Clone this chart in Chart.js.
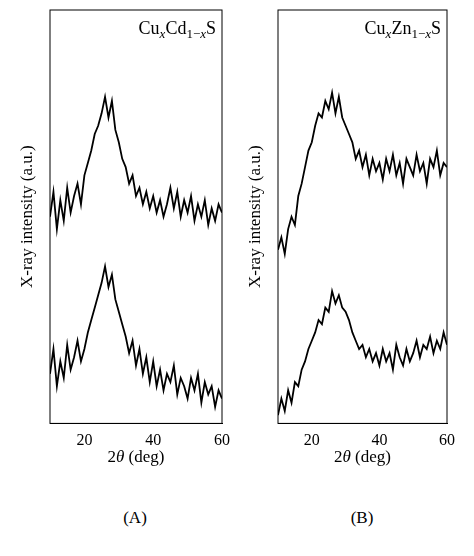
<!DOCTYPE html>
<html><head><meta charset="utf-8">
<script src="https://cdn.jsdelivr.net/npm/chart.js@4"></script>
<style>
body{margin:0;background:#fff;width:474px;height:556px;position:relative;font-family:"Liberation Serif","DejaVu Serif",serif;}
.c{position:absolute;top:0;width:237px;height:478px;}
.lab{position:absolute;top:508px;font-size:17px;transform:translateX(-50%);}
</style></head><body>
<div class="c" style="left:0"><canvas id="chartA" width="237" height="478"></canvas></div>
<div class="c" style="left:237px"><canvas id="chartB" width="237" height="478"></canvas></div>
<div class="lab" style="left:135px">(A)</div>
<div class="lab" style="left:362px">(B)</div>
<script>
const twoTheta = [];
for (let t = 10; t <= 60; t++) twoTheta.push(t);
const xTicks = [20, 40, 60];

const upperA = [50,56,47,54,49,57,51,55,58,53, 60,63,66,70,72,75,79,74,78,71,
  68,64,62,58,60,55,57,53,56,52, 55,51,54,50,53,57,52,56,50,54, 51,55,49,53,50,54,48,52,49,53, 51];
const lowerA = [12,18,9,15,11,19,13,16,20,15, 18,22,25,28,31,34,38,33,36,30,
  27,24,21,17,20,14,18,12,16,10, 15,9,13,8,12,10,14,7,11,9, 6,11,8,12,5,10,7,9,4,8, 6];
const upperB = [42,45,41,47,50,48,55,58,62,66, 68,72,75,74,78,76,80,75,79,74,
  72,70,68,64,66,62,65,60,64,61, 63,59,64,61,65,60,63,58,64,62, 60,65,61,63,58,64,62,66,60,63, 62];
const lowerB = [2,6,3,8,5,10,9,13,15,18, 20,22,25,24,28,27,32,29,31,28,
  27,25,22,20,18,19,16,18,15,17, 14,18,15,17,13,19,16,14,18,15, 17,20,16,19,18,21,17,20,18,22, 19];

const serif = '"Liberation Serif","DejaVu Serif",serif';

// frame, y title, x title and subscripted compound label
function panelPlugin(base, metal) {
  return {
    id: 'panel',
    afterDraw(chart) {
      const { ctx, chartArea: a } = chart;
      ctx.save();
      ctx.strokeStyle = '#000';
      ctx.lineWidth = 1;
      ctx.strokeRect(a.left, a.top, a.right - a.left, a.bottom - a.top);
      ctx.fillStyle = '#000';
      ctx.font = '17px ' + serif;
      ctx.textBaseline = 'middle';
      // x title with italic theta
      const cx = (a.left + a.right) / 2, ty = a.bottom + 34;
      const p1 = '2', p2 = '\u03b8', p3 = ' (deg)';
      ctx.font = '17px ' + serif; const w1 = ctx.measureText(p1).width, w3 = ctx.measureText(p3).width;
      ctx.font = 'italic 17px ' + serif; const w2 = ctx.measureText(p2).width;
      let tx = cx - (w1 + w2 + w3) / 2;
      ctx.textAlign = 'left';
      ctx.font = '17px ' + serif; ctx.fillText(p1, tx, ty); tx += w1;
      ctx.font = 'italic 17px ' + serif; ctx.fillText(p2, tx, ty); tx += w2;
      ctx.font = '17px ' + serif; ctx.fillText(p3, tx, ty);

      ctx.textAlign = 'center';
      ctx.translate(a.left - 22, (a.top + a.bottom) / 2);
      ctx.rotate(-Math.PI / 2);
      ctx.fillText('X-ray intensity (a.u.)', 0, 0);
      ctx.restore();

      ctx.save();
      ctx.fillStyle = '#000';
      ctx.textBaseline = 'alphabetic';
      const parts = [[base, '18px '], [metal, '18px '], ['S', '18px ']];
      const subs = [['x', 'italic 13px '], ['1\u2212', '13px '], ['x', 'italic 13px ']];
      const seq = [parts[0], subs[0], parts[1], subs[1], subs[2], parts[2]];
      let w = 0;
      seq.forEach(p => { ctx.font = p[1] + serif; w += ctx.measureText(p[0]).width; });
      let x = a.right - 6 - w;
      const y = a.top + 24;
      seq.forEach(p => {
        ctx.font = p[1] + serif;
        ctx.fillText(p[0], x, p[1].indexOf('13') >= 0 ? y + 4 : y);
        x += ctx.measureText(p[0]).width;
      });
      ctx.restore();
    }
  };
}

function makeChart(id, upper, lower, metal, padL, padR) {
  const ds = s => ({ data: s, borderColor: '#000', borderWidth: 1.8, pointRadius: 0, tension: 0 });
  new Chart(document.getElementById(id), {
    type: 'line',
    data: { labels: twoTheta, datasets: [ds(upper), ds(lower)] },
    options: {
      responsive: false, animation: false,
      layout: { padding: { left: padL, right: padR, top: 10, bottom: 0 } },
      plugins: { legend: { display: false }, tooltip: { enabled: false } },
      scales: {
        x: {
          type: 'linear', min: 10, max: 60,
          grid: { display: false, drawTicks: true, tickLength: 5 },
          border: { color: '#000' },
          afterBuildTicks: ax => { ax.ticks = xTicks.map(v => ({ value: v })); },
          ticks: { color: '#000', font: { family: serif, size: 16 }, maxRotation: 0 },
          title: { display: true, text: ' ', color: '#000', font: { family: serif, size: 17 }, padding: { top: 0 } }
        },
        y: { display: false, min: 0, max: 100 }
      }
    },
    plugins: [panelPlugin('Cu', metal)]
  });
}

makeChart('chartA', upperA, lowerA, 'Cd', 50, 15);
makeChart('chartB', upperB, lowerB, 'Zn', 41, 27);
</script>
</body></html>
